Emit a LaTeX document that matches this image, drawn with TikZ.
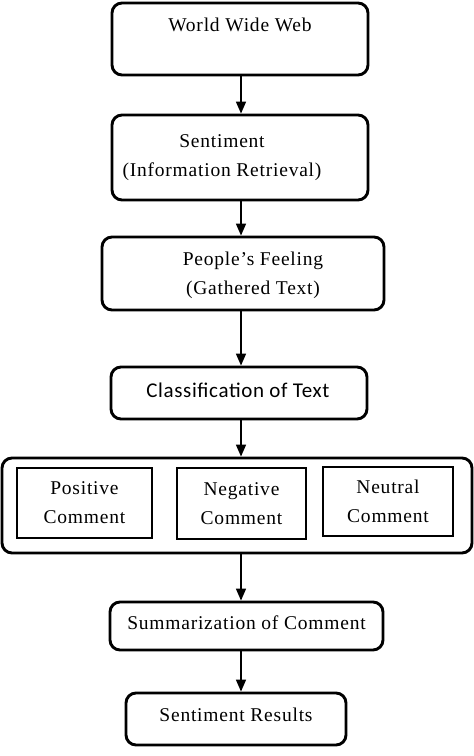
\documentclass[tikz,border=0pt]{standalone}
\usepackage{fontspec}
\setmainfont[LetterSpace=4]{Liberation Serif}
\newfontfamily\clsfont[LetterSpace=3]{Carlito}
\usetikzlibrary{arrows.meta}
\begin{document}
\begin{tikzpicture}[x=1pt,y=-1pt,
  rbox/.style={draw, line width=2.9pt, rounded corners=10pt, inner sep=0pt, fill=white},
  sbox/.style={draw, line width=1.6pt, inner sep=0pt},
  txt/.style={font=\fontsize{19.5}{29}\selectfont, align=center, inner sep=0pt},
  arr/.style={line width=1.7pt, -{Triangle[length=12pt,width=10pt]}}]
\useasboundingbox (0,0) rectangle (474,756);
\coordinate (ax) at (241,0);
\node[rbox, minimum width=256pt, minimum height=72pt,
  label={[txt, yshift=14pt]center:World Wide Web}] (www) at (240,39) {};
\node[rbox, minimum width=256pt, minimum height=85pt,
  label={[txt, xshift=-18pt]center:Sentiment\\(Information Retrieval)}] (sent) at (240,157.5) {};
\node[rbox, minimum width=282pt, minimum height=73pt,
  label={[txt, xshift=10pt, yshift=-2pt]center:People’s Feeling\\(Gathered Text)}] (feel) at (243,273.5) {};
\node[rbox, minimum width=256pt, minimum height=52pt,
  label={[txt, font=\clsfont\fontsize{21}{25}\selectfont, xshift=-1pt, yshift=3pt]center:Classification of Text}] (cls) at (239,393) {};
\node[rbox, minimum width=470pt, minimum height=95pt] (big) at (237,505.5) {};
\node[sbox, minimum width=135pt, minimum height=70pt,
  label={[txt]center:Positive\\Comment}] (pos) at (84.5,503) {};
\node[sbox, minimum width=129pt, minimum height=71pt,
  label={[txt]center:Negative\\Comment}] (neg) at (241.5,503.5) {};
\node[sbox, minimum width=130pt, minimum height=69pt,
  label={[txt]center:Neutral\\Comment}] (neu) at (388,501.5) {};
\node[rbox, minimum width=273pt, minimum height=48pt,
  label={[txt, yshift=3pt]center:Summarization of Comment}] (summ) at (246.5,626) {};
\node[rbox, minimum width=220pt, minimum height=52pt,
  label={[txt, yshift=4pt]center:Sentiment Results}] (res) at (236,719) {};
\draw[arr] (www.south -| ax) -- (sent.north -| ax);
\draw[arr] (sent.south -| ax) -- (feel.north -| ax);
\draw[arr] (feel.south -| ax) -- (cls.north -| ax);
\draw[arr] (cls.south -| ax) -- (big.north -| ax);
\draw[arr] (big.south -| ax) -- (summ.north -| ax);
\draw[arr] (summ.south -| ax) -- (res.north -| ax);
\end{tikzpicture}
\end{document}
